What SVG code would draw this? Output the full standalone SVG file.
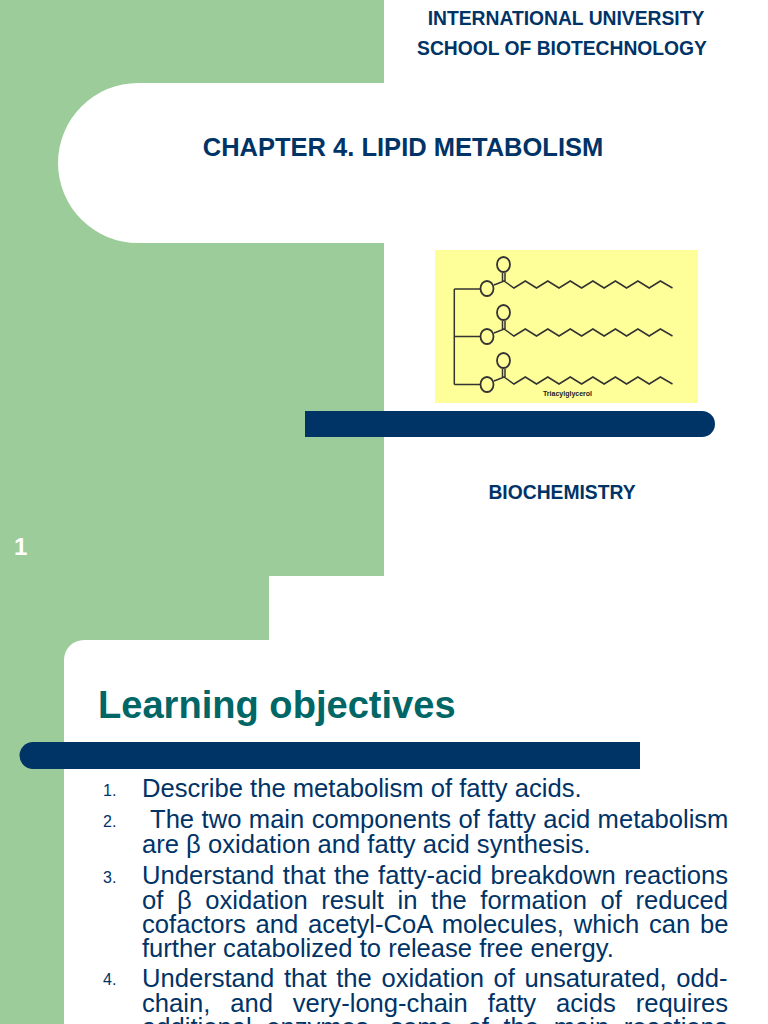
<svg xmlns="http://www.w3.org/2000/svg" width="768" height="1024" viewBox="0 0 768 1024">
<defs><style>
text{font-family:"Liberation Sans",Arial,sans-serif}
.h{font-weight:700;fill:#003366}
.b{font-size:25.6px;fill:#003366}
.n{font-size:16px;fill:#003366}
.c{fill:none;stroke:#333;stroke-width:1.5}
.o{fill:none;stroke:#333;stroke-width:1.8}
</style>
<g id="ch"><ellipse class="o" cx="487" cy="288.500" rx="6.500" ry="7.500"/><ellipse class="o" cx="503.500" cy="264.500" rx="6.500" ry="7.500"/>
<path class="c" d="M494 285L504 281L514 288L525.300 281L536.500 288L547.800 281L559 288L570.300 281L581.600 288L592.900 281L604.100 288L615.400 281L626.600 288L637.900 281L649.200 288L660.400 281L672.500 288M502.500 273V281M505 273V281"/></g></defs>
<rect width="768" height="1024" fill="#fff"/>
<path d="M0 0H384V83H138A80 80 0 0 0 138 243H384V576H269V640H84A20 20 0 0 0 64 660V1024H0Z" fill="#9ccc99"/>
<g id="bars"><path d="M305 411H702A13 13 0 0 1 702 437H305Z" fill="#003366"/>
<path d="M640 742H33A13.500 13.500 0 0 0 33 769H640Z" fill="#003366"/></g>
<g id="header" text-anchor="middle">
<text x="566" y="24.500" font-size="19.300" class="h">INTERNATIONAL UNIVERSITY</text>
<text x="562" y="54.500" font-size="19.300" class="h">SCHOOL OF BIOTECHNOLOGY</text>
<text x="403" y="155.500" font-size="25.500" class="h">CHAPTER 4. LIPID METABOLISM</text>
<text x="562" y="498.500" font-size="19.300" class="h">BIOCHEMISTRY</text></g>
<text x="14" y="555" font-size="24" font-weight="700" fill="#fff">1</text>
<g id="molecule"><rect x="435" y="250" width="263" height="153" fill="#ffff99"/>
<path class="c" d="M454.300 289V384.500M454.300 289H480.500M454.300 336.500H480.500M454.300 384.500H480.500"/>
<use href="#ch"/><use href="#ch" y="48"/><use href="#ch" y="96"/>
<text x="567.500" y="396" font-size="7" font-weight="700" fill="#222" text-anchor="middle">Triacylglycerol</text></g>
<text x="98" y="718" font-size="38.100" font-weight="700" fill="#006666">Learning objectives</text>
<g id="list">
<text class="n" x="103" y="796">1.</text><text class="n" x="103" y="827">2.</text><text class="n" x="103" y="883">3.</text><text class="n" x="103" y="985">4.</text>
<text class="b" x="142" y="797">Describe the metabolism of fatty acids.</text>
<text class="b" x="150" y="828" word-spacing="0.330">The two main components of fatty acid metabolism</text>
<text class="b" x="142" y="853">are β oxidation and fatty acid synthesis.</text>
<text class="b" x="142" y="884" word-spacing="1.400">Understand that the fatty-acid breakdown reactions</text>
<text class="b" x="142" y="909" word-spacing="6.500">of β oxidation result in the formation of reduced</text>
<text class="b" x="142" y="933" word-spacing="2.670">cofactors and acetyl-CoA molecules, which can be</text>
<text class="b" x="142" y="957">further catabolized to release free energy.</text>
<text class="b" x="142" y="987" word-spacing="2.500">Understand that the oxidation of unsaturated, odd-</text>
<text class="b" x="142" y="1012" word-spacing="12.800">chain, and very-long-chain fatty acids requires</text>
<text class="b" x="142" y="1036" word-spacing="7.500">additional enzymes, some of the main reactions</text>
</g>
</svg>
